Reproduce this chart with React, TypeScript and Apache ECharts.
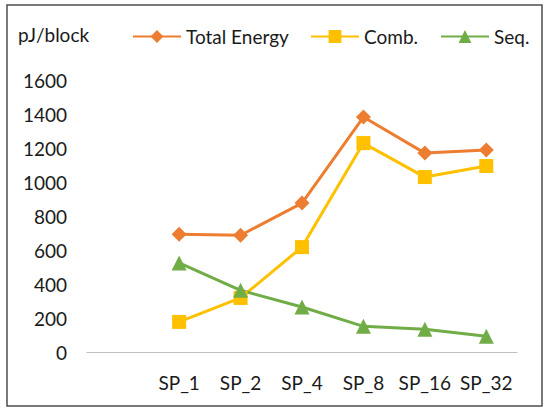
import { useEffect, useRef } from "react";
import * as echarts from "echarts";

const categories = ["SP_1", "SP_2", "SP_4", "SP_8", "SP_16", "SP_32"];
const totalEnergy = [693, 687, 876, 1382, 1170, 1188];
const comb = [177, 318, 617, 1229, 1029, 1094];
const seq = [524, 363, 265, 151, 134, 92];

const FONT = "Lato, 'Open Sans', sans-serif";
const TEXT_COLOR = "#1a1a1a";
const FONT_SIZE = 19;

// the reference leaves one empty slot before SP_1
const axisData = ["", ...categories];
const pad = (values: number[]) => [null, ...values];

const lineSeries = (name: string, data: number[], color: string, symbol: string, symbolSize: number) => ({
  name,
  type: "line",
  data: pad(data),
  symbol,
  symbolSize,
  showSymbol: true,
  lineStyle: { color, width: 3 },
  itemStyle: { color },
  connectNulls: false
});

const legendAt = (name: string, left: number) => ({
  data: [name],
  left,
  top: 22,
  itemWidth: 48,
  itemHeight: 16,
  textStyle: { fontSize: FONT_SIZE, fontFamily: FONT, color: TEXT_COLOR }
});

export default function App() {
  const hostRef = useRef<HTMLDivElement>(null);

  useEffect(() => {
    const host = hostRef.current;
    if (host === null) return;
    const chart = echarts.init(host, undefined, { renderer: "svg" });
    chart.setOption({
      animation: false,
      backgroundColor: "#ffffff",
      textStyle: { fontFamily: FONT, color: TEXT_COLOR },
      graphic: [
        {
          type: "rect",
          shape: { x: 7, y: 5, width: 535, height: 401 },
          style: { fill: "none", stroke: "#4d4d4d", lineWidth: 1.5 },
          silent: true
        },
        {
          type: "text",
          left: 18,
          top: 25,
          style: { text: "pJ/block", fontSize: FONT_SIZE, fontFamily: FONT, fill: TEXT_COLOR }
        }
      ],
      legend: [
        legendAt("Total Energy", 127),
        legendAt("Comb.", 305),
        legendAt("Seq.", 435)
      ],
      grid: { left: 87, right: 33, top: 80, bottom: 63 },
      xAxis: {
        type: "category",
        data: axisData,
        boundaryGap: true,
        axisLine: { lineStyle: { color: "#bfbfbf", width: 1 } },
        axisTick: { show: false },
        axisLabel: { fontSize: FONT_SIZE, fontFamily: FONT, color: TEXT_COLOR, margin: 21, interval: 0 }
      },
      yAxis: {
        type: "value",
        min: 0,
        max: 1600,
        interval: 200,
        axisLine: { show: false },
        axisTick: { show: false },
        splitLine: { show: false },
        axisLabel: {
          fontSize: FONT_SIZE,
          fontFamily: FONT,
          color: TEXT_COLOR,
          margin: 20,
          formatter: (value: number) => String(value)
        }
      },
      series: [
        lineSeries("Total Energy", totalEnergy, "#ed7d31", "diamond", 15),
        lineSeries("Comb.", comb, "#ffc000", "rect", 14),
        lineSeries("Seq.", seq, "#70ad47", "triangle", 15)
      ]
    });
    return () => chart.dispose();
  }, []);

  return (
    <div
      ref={hostRef}
      style={{ position: "fixed", left: 0, top: 0, width: 550, height: 415 }}
    />
  );
}
